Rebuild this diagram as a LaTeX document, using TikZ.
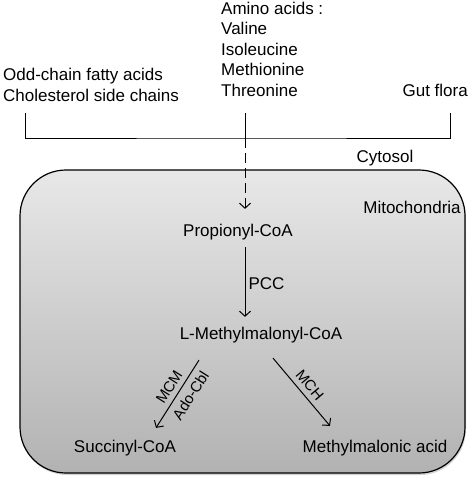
\documentclass[tikz,border=0pt]{standalone}
\usepackage{fontspec}
\setmainfont{Liberation Sans}
\usetikzlibrary{arrows.meta,shadows}
\definecolor{mitotop}{HTML}{E8E8E8}
\definecolor{mitobot}{HTML}{B2B2B2}
\begin{document}
\begin{tikzpicture}[x=1pt, y=-1pt,
  >={Straight Barb[length=5pt,width=11pt]},
  txt/.style={inner sep=0pt, font=\fontsize{17}{20.5}\selectfont},
  enz/.style={font=\fontsize{15}{18}\selectfont, sloped, inner sep=3pt},
  flow/.style={->, line width=1pt}]
\useasboundingbox (0,0) rectangle (474,482);

\draw[line width=1.2pt, rounded corners=46pt, top color=mitotop, bottom color=mitobot,
  drop shadow={shadow xshift=1pt, shadow yshift=-2pt, opacity=0.35}]
  (20,170) rectangle (465,473);

\node[txt, anchor=west, align=left] (odd) at (3,85) {Odd-chain fatty acids\\Cholesterol side chains};
\node[txt, anchor=west, align=left] (amino) at (221,49) {Amino acids :\\Valine\\Isoleucine\\Methionine\\Threonine};
\node[txt, anchor=east] (gut) at (468,90) {Gut flora};
\node[txt] (cytosol) at (385,158) {Cytosol};
\node[txt] (mito) at (412,207) {Mitochondria};
\node[txt] (prop) at (238,232) {Propionyl-CoA};
\node[txt] (lmm) at (261,335) {L-Methylmalonyl-CoA};
\node[txt] (succ) at (125,448) {Succinyl-CoA};
\node[txt] (mma) at (375,448) {Methylmalonic acid};

\coordinate (brl) at (25,113);
\coordinate (brr) at (450,113);
\coordinate (brm) at (245,113);
\coordinate (mid) at (245,138);

\draw[line width=1pt] (brl) |- (mid) -| (brr);
\draw[line width=1pt] (brm) -- (mid);
\draw[flow, dash pattern=on 10pt off 5pt, shorten >=15pt] (mid) -- (mid |- prop.north);
\draw[flow, shorten <=7pt, shorten >=10pt] (prop.south -| mid) -- node[txt, right, xshift=3pt] (pcc) {PCC} (lmm.north -| mid);
\draw[flow] ([xshift=-62pt, yshift=-17pt]lmm.south) -- node[enz, above, pos=0.48, yshift=2pt] (mcm) {MCM}
  node[enz, below, pos=0.43, yshift=-3pt] (ado) {Ado-Cbl} ([xshift=31pt, yshift=12pt]succ.north);
\draw[flow] ([xshift=12pt, yshift=-15pt]lmm.south) -- node[enz, above, pos=0.5, yshift=2pt] (mch) {MCH}
  ([xshift=-45pt, yshift=14pt]mma.north);
\end{tikzpicture}
\end{document}
